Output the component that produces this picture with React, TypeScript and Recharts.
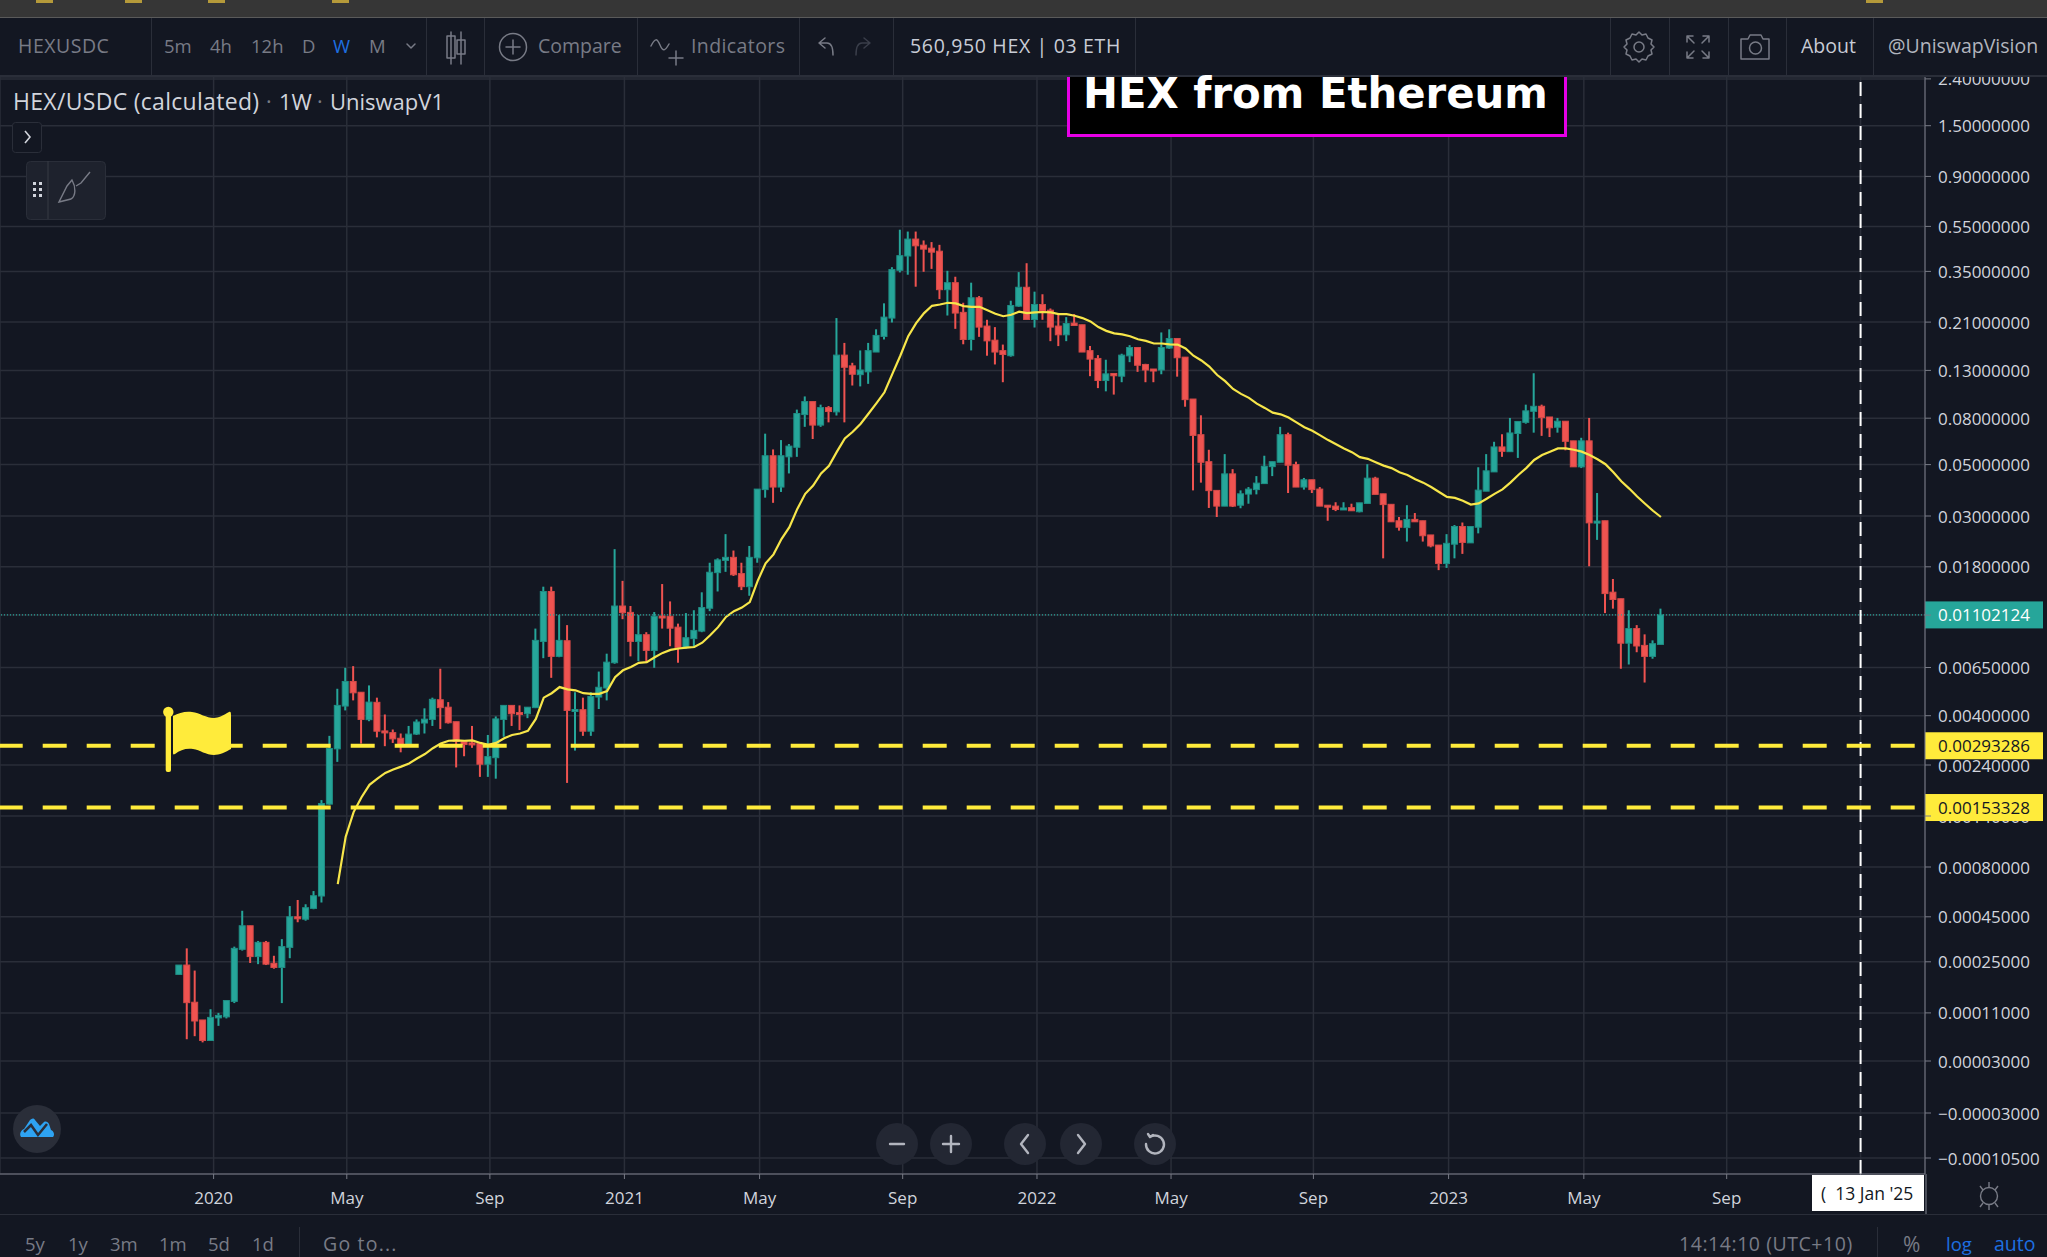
import React from "react";
import { ComposedChart, Bar, Line, XAxis, YAxis, CartesianGrid, ReferenceLine } from "recharts";

const opens = [
  0.000209,0.000239,0.000134,0.000096,0.00006,0.0001,0.000102,0.000136,0.000297,0.000403,
  0.000269,0.000326,0.000245,0.000231,0.000305,0.00045,0.000437,0.000498,0.000576,0.00159,
  0.00284,0.00441,0.00565,0.00507,0.00384,0.00458,0.00342,0.00336,0.00317,0.00294,
  0.00331,0.00371,0.00385,0.0047,0.00436,0.00376,0.00309,0.00302,0.003,0.00242,
  0.00259,0.00385,0.00444,0.00413,0.00408,0.00434,0.00845,0.014,0.00727,0.00851,
  0.00422,0.00425,0.00341,0.00483,0.00529,0.00682,0.01207,0.01131,0.00845,0.00904,
  0.00772,0.0109,0.01087,0.00975,0.00794,0.00869,0.00937,0.0118,0.01696,0.0192,
  0.0198,0.0168,0.0147,0.0197,0.039,0.0547,0.04,0.0541,0.0596,0.083,
  0.0947,0.0746,0.0891,0.0853,0.1513,0.136,0.1245,0.1281,0.156,0.1822,
  0.2187,0.354,0.4085,0.4843,0.4556,0.442,0.4288,0.2911,0.3124,0.2317,
  0.1767,0.2684,0.2019,0.1755,0.1582,0.1504,0.2467,0.2983,0.2156,0.2508,
  0.2368,0.2019,0.1851,0.2079,0.2045,0.1582,0.1464,0.1173,0.126,0.1226,
  0.1502,0.1632,0.1379,0.1318,0.1305,0.1623,0.1785,0.1483,0.0972,0.0677,
  0.0515,0.0387,0.0331,0.0456,0.0334,0.0373,0.039,0.0414,0.049,0.0512,
  0.0677,0.05,0.04,0.043,0.0392,0.0334,0.0331,0.032,0.0326,0.0313,
  0.034,0.0437,0.0374,0.0337,0.0286,0.0267,0.029,0.0286,0.0248,0.0224,
  0.0186,0.0226,0.027,0.0229,0.0268,0.0384,0.0465,0.0598,0.057,0.0685,
  0.0767,0.0858,0.0903,0.081,0.073,0.0776,0.0636,0.0489,0.0636,0.028,
  0.0286,0.0139,0.013,0.0083,0.00961,0.00812,0.00727,0.0082,
];
const highs = [
  0.000239,0.000301,0.000221,0.000096,0.000118,0.00011,0.000138,0.000308,0.000484,0.000403,
  0.000332,0.000332,0.000272,0.00034,0.000512,0.00055,0.000523,0.00061,0.00166,0.00325,
  0.00525,0.00648,0.00659,0.00507,0.00543,0.0048,0.00405,0.00347,0.00333,0.0036,
  0.00385,0.00431,0.0048,0.00642,0.00459,0.00376,0.00309,0.0036,0.003,0.00328,
  0.00397,0.00444,0.00444,0.00444,0.00436,0.00961,0.0147,0.0147,0.011,0.00995,
  0.00507,0.0048,0.00507,0.00624,0.00747,0.0215,0.0156,0.01207,0.011,0.00927,
  0.01135,0.0151,0.01265,0.0101,0.01123,0.01156,0.01388,0.01875,0.0196,0.025,
  0.0212,0.01875,0.0222,0.0392,0.0684,0.0583,0.0641,0.0616,0.0873,0.0998,
  0.0947,0.0918,0.0905,0.2187,0.1708,0.1402,0.1585,0.1708,0.1955,0.2537,
  0.3651,0.532,0.5222,0.5222,0.4776,0.4698,0.457,0.3521,0.3317,0.2552,
  0.3124,0.273,0.215,0.1998,0.168,0.2605,0.3475,0.38,0.2854,0.278,
  0.2409,0.2262,0.2208,0.2276,0.2045,0.1657,0.1513,0.1445,0.126,0.1534,
  0.167,0.1632,0.1388,0.1318,0.1895,0.1955,0.1785,0.1483,0.0972,0.0824,
  0.0581,0.0387,0.0556,0.0478,0.0387,0.04,0.0446,0.0547,0.0515,0.0733,
  0.0691,0.0515,0.0438,0.043,0.04,0.0334,0.0344,0.0344,0.0339,0.0342,
  0.0502,0.0443,0.0374,0.0337,0.0297,0.0334,0.0309,0.0286,0.0248,0.0224,
  0.025,0.0274,0.0281,0.027,0.0487,0.0556,0.063,0.068,0.0802,0.0774,
  0.0918,0.1263,0.0918,0.081,0.0802,0.0776,0.0636,0.0656,0.0802,0.0377,
  0.0286,0.0159,0.013,0.01156,0.00995,0.00907,0.00854,0.01175,
];
const lows = [
  0.000209,0.000062,0.000067,0.000057,0.00006,0.000085,0.000099,0.000132,0.000292,0.000246,
  0.000242,0.000239,0.000227,0.000132,0.000263,0.000421,0.000429,0.000493,0.000534,0.00158,
  0.00248,0.00422,0.00467,0.003,0.00378,0.0032,0.00292,0.00302,0.00274,0.00294,
  0.00328,0.00333,0.0036,0.00349,0.00369,0.00234,0.00263,0.00287,0.00212,0.00212,
  0.00208,0.00322,0.0036,0.00345,0.0039,0.00432,0.00714,0.00586,0.00721,0.00199,
  0.00279,0.00325,0.00325,0.00428,0.00467,0.00675,0.01056,0.00727,0.00693,0.00682,
  0.00648,0.00961,0.00805,0.00682,0.00787,0.00794,0.00927,0.01145,0.014,0.0171,
  0.0164,0.0142,0.0134,0.01875,0.036,0.0342,0.0381,0.0458,0.0541,0.0733,
  0.0648,0.0733,0.0767,0.0822,0.0767,0.1115,0.1105,0.1134,0.156,0.1767,
  0.2092,0.3465,0.3385,0.3,0.3486,0.359,0.2648,0.2244,0.1964,0.1685,
  0.1585,0.1814,0.1504,0.1379,0.1153,0.149,0.245,0.2156,0.199,0.215,
  0.1738,0.1655,0.1738,0.203,0.156,0.1226,0.1086,0.1051,0.1017,0.1153,
  0.1411,0.1281,0.1153,0.1153,0.125,0.161,0.122,0.0899,0.0387,0.0418,
  0.0325,0.0297,0.0331,0.0328,0.0324,0.0339,0.0372,0.0414,0.0446,0.0512,
  0.0377,0.04,0.039,0.0377,0.0331,0.0286,0.0315,0.032,0.0316,0.0311,
  0.034,0.0372,0.0196,0.0283,0.0259,0.0232,0.0283,0.0232,0.0219,0.0174,
  0.0178,0.0196,0.0205,0.0229,0.0252,0.0384,0.0465,0.0541,0.057,0.0535,
  0.0757,0.0691,0.0669,0.0661,0.0691,0.0578,0.0489,0.0483,0.0181,0.0236,
  0.01123,0.01175,0.00642,0.0067,0.00758,0.00559,0.0071,0.0082,
];
const closes = [
  0.000239,0.000133,0.000094,0.00006,0.000101,0.000105,0.000138,0.000301,0.000403,0.000269,
  0.000326,0.000242,0.000231,0.000308,0.00045,0.00044,0.000502,0.000578,0.0016,0.00285,
  0.00444,0.00565,0.00504,0.00385,0.00459,0.00341,0.00335,0.00315,0.00294,0.00331,
  0.00375,0.00386,0.00472,0.00434,0.00372,0.00307,0.00297,0.00296,0.00242,0.00262,
  0.00387,0.00444,0.00408,0.00408,0.00436,0.00854,0.014,0.00727,0.00854,0.00422,
  0.00426,0.00341,0.00486,0.00533,0.00686,0.01207,0.01128,0.00845,0.00904,0.00772,
  0.01087,0.0108,0.00965,0.00794,0.00877,0.00944,0.01188,0.01703,0.0193,0.0198,
  0.0166,0.0147,0.0198,0.0392,0.0547,0.04,0.0547,0.0603,0.0839,0.0947,
  0.0746,0.0891,0.0856,0.1513,0.1341,0.125,0.1305,0.1582,0.184,0.2208,
  0.3565,0.41,0.4843,0.4525,0.4377,0.4246,0.2911,0.3124,0.23,0.1767,
  0.2684,0.1998,0.1743,0.156,0.1522,0.2483,0.2983,0.2156,0.2508,0.2351,
  0.1998,0.1851,0.207,0.203,0.156,0.1454,0.1173,0.1255,0.1231,0.1513,
  0.1632,0.1368,0.1305,0.1301,0.1632,0.1785,0.1474,0.0966,0.0672,0.0512,
  0.0386,0.0331,0.0456,0.0331,0.0374,0.0392,0.0416,0.0492,0.0515,0.0677,
  0.0497,0.04,0.043,0.039,0.0331,0.0331,0.032,0.0325,0.0316,0.0342,
  0.0437,0.0372,0.0336,0.0283,0.0268,0.029,0.0283,0.0246,0.0222,0.0186,
  0.0228,0.027,0.023,0.027,0.0388,0.047,0.0598,0.0572,0.0689,0.0774,
  0.0862,0.0903,0.0805,0.0726,0.0776,0.0633,0.0489,0.0636,0.028,0.0285,
  0.0137,0.0129,0.0083,0.00961,0.00807,0.00727,0.00826,0.01102124,
];
const maFirstWeek = 20;
const maValues = [
  0.00066,0.00112,0.00146,0.00171,0.00195,0.00208,0.00221,0.00229,0.00236,0.00244,
  0.00257,0.00269,0.00286,0.003,0.00309,0.0031,0.00309,0.0031,0.00302,0.00296,
  0.00302,0.00317,0.00328,0.00333,0.00342,0.00387,0.0048,0.00502,0.00534,0.00522,
  0.00517,0.00502,0.00499,0.00499,0.00513,0.0059,0.00632,0.00654,0.00681,0.00686,
  0.00721,0.00753,0.00776,0.00787,0.00794,0.00799,0.00834,0.00899,0.00975,0.0108,
  0.01145,0.01188,0.01256,0.0156,0.01865,0.0204,0.0238,0.0268,0.0322,0.0374,
  0.0406,0.0458,0.0494,0.057,0.0652,0.0697,0.0757,0.0839,0.0933,0.1041,
  0.1255,0.1504,0.1826,0.2079,0.23,0.2475,0.2508,0.2552,0.2537,0.2467,
  0.245,0.245,0.2368,0.2285,0.2228,0.2262,0.2333,0.23,0.2317,0.2325,
  0.2317,0.2276,0.2276,0.2239,0.2187,0.2114,0.1998,0.1925,0.1877,0.1858,
  0.1826,0.1772,0.1743,0.1698,0.1698,0.1685,0.168,0.1616,0.1504,0.1435,
  0.135,0.124,0.1165,0.1077,0.1024,0.0984,0.0928,0.0888,0.0846,0.0832,
  0.0805,0.0767,0.073,0.0704,0.0672,0.0641,0.0614,0.0589,0.0567,0.0539,
  0.053,0.0512,0.0495,0.0483,0.0463,0.0451,0.0432,0.0418,0.04,0.0381,
  0.0363,0.0359,0.0349,0.0336,0.034,0.0356,0.0374,0.0391,0.0418,0.0451,
  0.0483,0.0524,0.0551,0.057,0.0589,0.0589,0.0581,0.057,0.0551,0.0528,
  0.0502,0.0463,0.0424,0.0394,0.0364,0.0339,0.0316,0.0297,
];

const priceTicks = [2.4,1.5,0.9,0.55,0.35,0.21,0.13,0.08,0.05,0.03,0.018,0.011,0.0065,0.004,0.0024,0.0014,0.0008,0.00045,0.00025,0.00011,0.00003,-0.00003,-0.000105];
const priceTickOffsets = [1.9,48.7,99.4,149.4,194.4,245.1,293.4,341.2,387.6,439,489.8,538.1,590.5,638.7,688,739,790,839.8,884.8,935.9,984,1036,1081];
const timeTickWeeks = [4.33,21.14,39.2,56.18,73.24,91.3,108.25,125.17,143.14,160.2,177.27,195.3,212.2];
const timeTickLabels = ["2020","May","Sep","2021","May","Sep","2022","May","Sep","2023","May","Sep",""];
const lastPrice = 0.01102124;
const priceTickUnderLastPrice = 0.011;
const priceTickPeekingUnderTag = 0.0014;
const supportLevels = [0.00293286, 0.00153328];
const crosshairWeek = 212.2;
const xDomain = [-22.63, 220.33];

const rows = opens.map((o, i) => ({
  week: i, open: o, high: highs[i], low: lows[i], close: closes[i],
  ma: i < maFirstWeek ? null : maValues[i - maFirstWeek],
}));

const PLOT_H = 1097;
const BG = "#131722";
const GRID = "#2a2e39";
const UP = "#26a69a";
const DOWN = "#ef5350";
const YEL = "#ffeb3b";
const FONT = "'Open Sans', sans-serif";

const tf = (v: number) => Math.log10(v + 0.00012);
function makePriceScale(d: number[] = [-0.00011, 2.45], r: number[] = [PLOT_H, 0]) {
  let dom = d, rng = r;
  const ts = priceTicks.map(tf);
  const s: any = (v: number) => {
    const t = tf(Math.max(v, -0.000118));
    let k = 0;
    while (k < ts.length - 2 && t < ts[k + 1]) k++;
    const f = (t - ts[k]) / (ts[k + 1] - ts[k]);
    const px = priceTickOffsets[k] + f * (priceTickOffsets[k + 1] - priceTickOffsets[k]);
    return rng[1] + (px / PLOT_H) * (rng[0] - rng[1]);
  };
  s.domain = (x?: number[]) => { if (x === undefined) return dom; dom = x; return s; };
  s.range = (x?: number[]) => { if (x === undefined) return rng; rng = x; return s; };
  s.copy = () => makePriceScale(dom, rng);
  s.ticks = () => priceTicks;
  s.tickFormat = () => (v: number) => String(v);
  return s;
}
const priceScale = makePriceScale();

const Wick = (p: any) => {
  const up = p.payload.close >= p.payload.open;
  return <rect x={p.x + p.width / 2 - 1} y={Math.min(p.y, p.y + p.height)} width={2} height={Math.abs(p.height)} fill={up ? UP : DOWN} />;
};
const Body = (p: any) => {
  const up = p.payload.close >= p.payload.open;
  const h = Math.max(Math.abs(p.height), 2);
  return <rect x={p.x + 0.5} y={Math.min(p.y, p.y + p.height)} width={p.width - 1} height={h} fill={up ? UP : DOWN} stroke={up ? "#1f8f85" : "#d64a48"} strokeWidth={1} />;
};

const PriceTick = (p: any) => {
  const v: number = p.payload.value;
  if (v === priceTickUnderLastPrice) return <g />;
  const label = (v < 0 ? "\u2212" : "") + Math.abs(v).toFixed(8);
  return (
    <g>
      {v === priceTickPeekingUnderTag ? (
        <clipPath id="under-tag"><rect x={1925} y={p.y + 5} width={122} height={20} /></clipPath>
      ) : null}
      <text x={1938} y={p.y} dominantBaseline="central" fontFamily={FONT} fontSize={17} fill="#d1d4dc"
        clipPath={v === priceTickPeekingUnderTag ? "url(#under-tag)" : undefined}>
        {label}
      </text>
    </g>
  );
};
const TimeTick = (p: any) => {
  const i = timeTickWeeks.indexOf(p.payload.value);
  if (!timeTickLabels[i]) return <g />;
  return (
    <text x={p.x} y={1197 - 77} textAnchor="middle" dominantBaseline="central" fontFamily={FONT} fontSize={17} fill="#d1d4dc">
      {timeTickLabels[i]}
    </text>
  );
};

const PriceTag = ({ viewBox, text, bg, color }: any) => (
  <g>
    <rect x={1925} y={viewBox.y - 13.5} width={118} height={27} fill={bg} />
    <text x={1938} y={viewBox.y} dominantBaseline="central" fontFamily={FONT} fontSize={17} fill={color}>{text}</text>
  </g>
);

const T = ({ x, y, s, c, size = 18.5, w, ls }: any) => (
  <div style={{ position: "absolute", left: x, top: y - 15, height: 30, lineHeight: "30px", color: c, fontSize: size, fontWeight: w, letterSpacing: ls, fontFamily: FONT, whiteSpace: "pre" }}>{s}</div>
);
const VSep = ({ x, t = 18, h = 57 }: any) => <div style={{ position: "absolute", left: x, top: t, width: 1, height: h, background: GRID }} />;
const RoundBtn = ({ x, children }: any) => (
  <svg style={{ position: "absolute", left: x - 22, top: 1122 }} width={44} height={44} viewBox="-22 -22 44 44">
    <circle r={21} fill="#232733" />
    <g stroke="#b2b5be" strokeWidth={2.4} fill="none" strokeLinecap="round" strokeLinejoin="round">{children}</g>
  </svg>
);

export default function App() {
  return (
    <div style={{ position: "absolute", left: 0, top: 0, width: 2047, height: 1257, background: BG, overflow: "hidden" }}>
      <div style={{ position: "absolute", left: 0, top: 77, width: 2047, height: 1137, overflow: "hidden" }}>
        <ComposedChart width={2047} height={1137} data={rows} margin={{ top: 0, right: 0, bottom: 0, left: 0 }} barSize={7} barGap={-7}>
          <CartesianGrid stroke={GRID} strokeWidth={1.5} />
          <XAxis dataKey="week" type="number" domain={xDomain} allowDataOverflow ticks={timeTickWeeks} interval={0} height={40} stroke="#787b86" tickLine={{ stroke: "#787b86" }} tickSize={5} tick={TimeTick} />
          <YAxis orientation="right" type="number" width={122} scale={priceScale} domain={[-0.00011, 2.45]} allowDataOverflow ticks={priceTicks} interval={0} stroke="#787b86" tickLine={{ stroke: "#787b86" }} tickSize={6} tick={PriceTick} />
          <Bar dataKey={(d: any) => [d.low, d.high]} shape={Wick} isAnimationActive={false} />
          <Bar dataKey={(d: any) => [Math.min(d.open, d.close), Math.max(d.open, d.close)]} shape={Body} isAnimationActive={false} />
          <Line dataKey="ma" type="linear" stroke="#f7e64a" strokeWidth={2.2} dot={false} connectNulls={false} isAnimationActive={false} />
          <ReferenceLine y={lastPrice} stroke={UP} strokeDasharray="1 2" strokeWidth={1.3} label={(p: any) => <PriceTag {...p} text={lastPrice.toFixed(8)} bg={UP} color="#fff" />} />
          <ReferenceLine x={crosshairWeek} stroke="#ffffff" strokeDasharray="14 8" strokeWidth={2} />
          {supportLevels.map((lv) => (
            <ReferenceLine key={lv} y={lv} stroke={YEL} strokeDasharray="24 20" strokeDashoffset={-10.3} strokeWidth={4} label={(p: any) => <PriceTag {...p} text={lv.toFixed(8)} bg={YEL} color="#131722" />} />
          ))}
        </ComposedChart>
      </div>

      {/* top strip */}
      <div style={{ position: "absolute", left: 0, top: 0, width: 2047, height: 17, background: "#363636", borderBottom: "1px solid #5a5a5a" }} />
      {[36, 125, 208, 332, 1866].map((x) => <div key={x} style={{ position: "absolute", left: x, top: 0, width: 17, height: 3, background: "#b59a3a" }} />)}
      {/* toolbar */}
      <div style={{ position: "absolute", left: 0, top: 18, width: 2047, height: 57, background: BG, borderBottom: "2px solid #2a2e39" }} />
      {[151, 426, 484, 637, 799, 893, 1135, 1610, 1669, 1728, 1786, 1873].map((x) => <VSep key={x} x={x} />)}
      <T x={18} y={46} s="HEXUSDC" c="#787b86" size={19.5} ls={0.5} />
      <T x={164} y={46} s="5m" c="#787b86" />
      <T x={210} y={46} s="4h" c="#787b86" />
      <T x={251} y={46} s="12h" c="#787b86" />
      <T x={302} y={46} s="D" c="#787b86" />
      <T x={333} y={46} s="W" c="#1e6fe0" />
      <T x={369} y={46} s="M" c="#787b86" />
      <T x={538} y={46} s="Compare" c="#787b86" size={19.5} />
      <T x={691} y={46} s="Indicators" c="#787b86" size={19.5} ls={0.4} />
      <T x={910} y={46} s="560,950 HEX | 03 ETH" c="#c8ccd6" size={19.5} ls={0.67} />
      <T x={1801} y={46} s="About" c="#c8ccd6" size={19.5} />
      <T x={1888} y={46} s="@UniswapVision" c="#b2b5be" size={19.5} />
      <svg style={{ position: "absolute", left: 0, top: 18 }} width={2047} height={57}>
        <g stroke="#787b86" strokeWidth={1.5} fill="none" strokeLinecap="round" strokeLinejoin="round">
          <path d="M407 26l4 4 4-4" />
          <path d="M451 14v32M447 18h8v22h-8zM461 14v32M457 22h8v14h-8z" />
          <circle cx={513} cy={29} r={13.5} />
          <path d="M513 22v14M506 29h14" />
          <path d="M651 28c4-8 6-8 9-1s5 6 9-1M676 33v14M669 40h14" />
          <path d="M825 20l-6 5 6 5M819 25h8c4 0 6 3 6 12" />
          <path d="M1639 14l3 3 4-1 2 4 4 2-1 4 3 3-3 3 1 4-4 2-2 4-4-1-3 3-3-3-4 1-2-4-4-2 1-4-3-3 3-3-1-4 4-2 2-4 4 1z" />
          <circle cx={1639} cy={29} r={5} />
          <path d="M1687 18l7 7M1687 18v6M1687 18h6M1709 18l-7 7M1709 18v6M1709 18h-6M1687 40l7-7M1687 40v-6M1687 40h6M1709 40l-7-7M1709 40v-6M1709 40h-6" />
          <path d="M1741 21h7l2-4h11l2 4h6v20h-28z" />
          <circle cx={1755.5} cy={30} r={6} />
        </g>
        <path d="M864 30l6-5-6-5M870 25h-8c-4 0-6 3-6 12" stroke="#3a3e4a" strokeWidth={1.5} fill="none" strokeLinecap="round" strokeLinejoin="round" />
      </svg>
      {/* legend */}
      <T x={13} y={101} s="HEX/USDC (calculated)" c="#d1d4dc" size={23} ls={0.3} />
      <T x={266} y={101} s="·" c="#787b86" size={21.5} />
      <T x={279} y={101} s="1W" c="#d1d4dc" size={22} />
      <T x={317} y={101} s="·" c="#787b86" size={21.5} />
      <T x={330} y={101} s="UniswapV1" c="#d1d4dc" size={22} />
      <svg style={{ position: "absolute", left: 12, top: 122 }} width={100} height={100}>
        <rect x={0.5} y={0.5} width={29} height={30} rx={3} fill={BG} stroke={GRID} />
        <path d="M13 9l5 6-5 6" stroke="#d1d4dc" strokeWidth={1.6} fill="none" />
        <rect x={14.5} y={39.5} width={79} height={58} rx={4} fill="#1e222d" stroke="#2a2e39" />
        <path d="M36 39v58" stroke="#363a45" />
        <g fill="#d1d4dc"><rect x={21} y={60} width={3} height={3} /><rect x={27} y={60} width={3} height={3} /><rect x={21} y={66} width={3} height={3} /><rect x={27} y={66} width={3} height={3} /><rect x={21} y={72} width={3} height={3} /><rect x={27} y={72} width={3} height={3} /></g>
        <path d="M47 80l12-3c5-3 5-12 1-19l-5 6zM64 64l5-3 9-11" stroke="#787b86" strokeWidth={1.4} fill="none" />
      </svg>
      {/* annotation */}
      <div style={{ position: "absolute", left: 1067, top: 77, width: 500, height: 60, background: "#000", borderLeft: "3px solid #e600e6", borderRight: "3px solid #e600e6", borderBottom: "3px solid #e600e6", boxSizing: "border-box" }} />
      <div style={{ position: "absolute", left: 1083, top: 69, color: "#fff", fontFamily: "'DejaVu Sans', sans-serif", fontWeight: 700, fontSize: 41.8, lineHeight: "50px", whiteSpace: "nowrap" }}>HEX from Ethereum</div>
      {/* flag */}
      <svg style={{ position: "absolute", left: 160, top: 700 }} width={80} height={80}>
        <circle cx={8.3} cy={12} r={5.2} fill={YEL} />
        <rect x={5.7} y={12} width={5.3} height={60} rx={2} fill={YEL} />
        <path d="M13 16c6-3 12-5 19-4 8 1 14 6 22 6 4 0 10-3 15-6 2-1 2 1 2 4v33c-5 3-12 6-17 6-8 0-14-5-21-6-7-1-13 1-18 5-2 1-2 0-2-2z" fill={YEL} />
      </svg>
      {/* logo */}
      <svg style={{ position: "absolute", left: 13, top: 1105 }} width={48} height={48} viewBox="0 0 48 48">
        <circle cx={24} cy={24} r={24} fill="#2a2e39" />
        <path d="M8 32c-2-3 0-7 3-8l6-9c2-2 4-2 5 0l5 6 4-4c2-1 4 0 5 2l2 6c3 1 4 5 2 7z" fill="#2ea3f2" />
        <path d="M11 27l7-7 7 10 9-11" stroke="#2a2e39" strokeWidth={2.5} fill="none" />
      </svg>
      {/* zoom buttons */}
      <RoundBtn x={897}><path d="M-7 0h14" /></RoundBtn>
      <RoundBtn x={951}><path d="M-8 0h16M0-8v16" /></RoundBtn>
      <RoundBtn x={1025}><path d="M3-9l-7 9 7 9" /></RoundBtn>
      <RoundBtn x={1081}><path d="M-3-9l7 9-7 9" /></RoundBtn>
      <RoundBtn x={1155}><path d="M-5-7a9 9 0 1 1-4 7M-7-10l2 3 3-2" /></RoundBtn>
      {/* crosshair time label + axis corner */}
      <div style={{ position: "absolute", left: 1812, top: 1175, width: 112, height: 36, background: "#fff" }} />
      <T x={1821} y={1193} s={"(  13 Jan '25"} c="#131722" size={17.5} />
      <svg style={{ position: "absolute", left: 1972, top: 1180 }} width={34} height={34}>
        <circle cx={17} cy={16} r={8.5} stroke="#787b86" strokeWidth={1.4} fill="none" />
        <path d="M17 2v5M17 25v5M8 6l3 4M26 6l-3 4M8 27l3-4M26 27l-3-4" stroke="#787b86" strokeWidth={1.4} />
      </svg>
      <div style={{ position: "absolute", left: 1925, top: 1174, width: 2, height: 40, background: "#4a4e59" }} />
      {/* bottom bar */}
      <div style={{ position: "absolute", left: 0, top: 1214, width: 2047, height: 1, background: GRID }} />
      {[["5y", 25], ["1y", 68], ["3m", 110], ["1m", 159], ["5d", 208], ["1d", 252]].map(([s, x]) => <T key={s as string} x={x} y={1244} s={s} c="#787b86" />)}
      <VSep x={299} t={1227} h={30} />
      <T x={323} y={1244} s="Go to..." c="#787b86" size={19.5} ls={1.2} />
      <T x={1679} y={1244} s="14:14:10 (UTC+10)" c="#787b86" size={19.5} ls={0.55} />
      <VSep x={1877} t={1227} h={30} />
      <T x={1903} y={1244} s="%" c="#787b86" size={21} />
      <T x={1946} y={1244} s="log" c="#1e6fe0" />
      <T x={1994} y={1244} s="auto" c="#1e6fe0" size={19.5} />
    </div>
  );
}
